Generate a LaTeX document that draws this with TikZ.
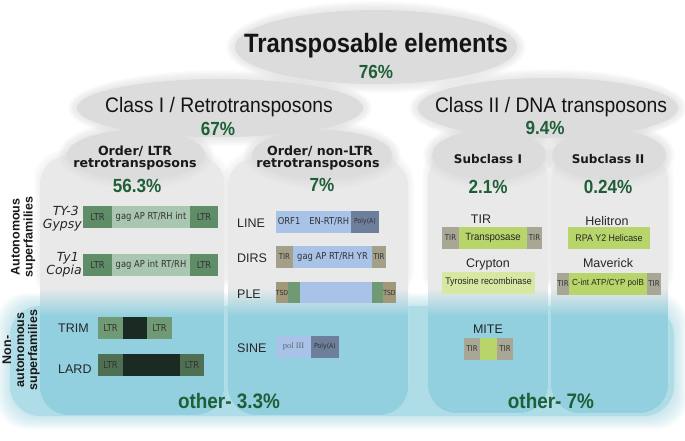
\documentclass[tikz,border=0pt]{standalone}
\usepackage{fontspec}
\setmainfont{Liberation Sans}
\newfontfamily\cnd{Liberation Sans}[FakeStretch=0.9]
\newfontfamily\cls{Liberation Sans}[FakeStretch=0.92]
\newfontfamily\vrd{DejaVu Sans}
\newfontfamily\vrdc{DejaVu Sans}[FakeStretch=0.88]
\newfontfamily\libc{Liberation Sans}[FakeStretch=0.92]
\newfontfamily\serf{Liberation Serif}
\definecolor{hgrey}{HTML}{DCDCDC}
\definecolor{cgrey}{HTML}{E9E9E9}
\definecolor{cblue}{HTML}{92D0DF}
\definecolor{bblue}{HTML}{AEDDE8}
\definecolor{pgreen}{HTML}{1E5F38}
\definecolor{ltrg}{HTML}{5F8D67}
\definecolor{ltrm}{HTML}{A9C7B0}
\definecolor{trimg}{HTML}{6F9A73}
\definecolor{lardg}{HTML}{4F6F53}
\definecolor{darkg}{HTML}{1C2A24}
\definecolor{lblue}{HTML}{A8C3E7}
\definecolor{slate}{HTML}{6E7F9C}
\definecolor{tanc}{HTML}{A39F88}
\definecolor{tsdc}{HTML}{A09A7B}
\definecolor{tirg}{HTML}{A8A694}
\definecolor{lime}{HTML}{B7D56B}
\definecolor{pale}{HTML}{D6E8A2}
\tikzset{
 segbox/.style={rectangle, inner sep=0pt, minimum height=22pt, text=black!80, font=\vrdc\fontsize{9.5}{10}\selectfont},
 tinyt/.style={font=\vrdc\fontsize{8}{9}\selectfont},
 microt/.style={font=\vrdc\fontsize{7}{8}\selectfont},
 gtxt/.style={font=\libc\fontsize{10}{11}\selectfont, text=black!85},
 pct/.style={inner sep=0pt, anchor=base, text=pgreen, font=\cnd\bfseries\fontsize{19}{20}\selectfont},
 lbl/.style={inner sep=0pt, text=black!85, font=\fontsize{12.5}{13}\selectfont},
 ordr/.style={inner sep=0pt, anchor=base, text=black!90, font=\vrd\bfseries\fontsize{12.6}{13}\selectfont},
 clss/.style={inner sep=0pt, anchor=base, text=black!92, font=\cls\fontsize{21}{22}\selectfont},
 sidel/.style={inner sep=0pt, rotate=90, align=center, text=black!90, font=\bfseries\fontsize{12.5}{13}\selectfont},
 spec/.style={inner sep=0pt, anchor=base east, text=black!85, font=\vrd\itshape\fontsize{12.5}{13}\selectfont},
}
\newcommand\bseg[7][]{\node[segbox, fill=#6, minimum width={(#4-#3)*1pt}, #1] (#2) at ({(#3+#4)/2},#5) {#7};}
\newcommand\softell[4]{%
 \foreach \g in {1,...,8}{\fill[hgrey, opacity=0.09] (#1,#2) ellipse [x radius=#3+1.1*\g, y radius=#4+1.1*\g];}
 \fill[hgrey] (#1,#2) ellipse [x radius=#3, y radius=#4];}
\newcommand\tecol[4]{%
 \foreach \g in {1,...,6}{\fill[cgrey, opacity=0.1, rounded corners=30pt] (#1-\g,#3-\g) rectangle (#2+\g,300);}
 \fill[cgrey, rounded corners=28pt] (#1,#3) rectangle (#2,#4);
 \begin{scope}
 \clip[rounded corners=28pt] (#1,#3) rectangle (#2,#4);
 \shade[top color=cgrey, bottom color=cblue] (#1,288) rectangle (#2,316);
 \fill[cblue] (#1,315.5) rectangle (#2,#4);
 \end{scope}}
\begin{document}
\begin{tikzpicture}[x=1pt,y=-1pt]
\useasboundingbox (0,0) rectangle (685,440);
\fill[white] (0,0) rectangle (685,440);
% blue band
\foreach \g in {1,...,10}{\fill[bblue, opacity=0.08, rounded corners=30pt] (10-1.3*\g,306-1.3*\g) rectangle (674+1.3*\g,416+1.3*\g);}
\fill[bblue, rounded corners=30pt] (10,306) rectangle (674,416);
% columns
\tecol{40}{224}{156}{415}
\tecol{228}{408}{158}{415}
\tecol{428}{548}{152}{413}
\tecol{551}{668}{152}{413}
% header ellipses
\softell{376}{47}{141}{37}
\softell{220}{108}{143}{29}
\softell{548}{108}{130}{30}
\softell{136}{155}{69}{25}
\softell{322}{155}{70}{25}
\softell{489}{155}{57}{25}
\softell{609}{155}{57}{25}
% titles
\node[inner sep=0pt, anchor=base, text=black!92, font=\cnd\bfseries\fontsize{26.5}{28}\selectfont] (te) at (376,52) {Transposable elements};
\node[pct] (p76) at (376,78) {76\%};
\node[clss] (c1) at (219,112) {Class I / Retrotransposons};
\node[pct] (p67) at (218,135) {67\%};
\node[clss] (c2) at (551,112) {Class II / DNA transposons};
\node[pct] (p94) at (545,134) {9.4\%};
\node[ordr] (o1a) at (135,155) {Order/ LTR};
\node[ordr] (o1b) at (135,167) {retrotransposons};
\node[pct] (p563) at (137,192) {56.3\%};
\node[ordr] (o2a) at (320,155) {Order/ non-LTR};
\node[ordr] (o2b) at (318,167) {retrotransposons};
\node[pct] (p7) at (322,191) {7\%};
\node[ordr, font=\vrd\bfseries\fontsize{12}{13}\selectfont] (s1) at (488,163) {Subclass I};
\node[pct] (p21) at (488,193) {2.1\%};
\node[ordr, font=\vrd\bfseries\fontsize{12}{13}\selectfont] (s2) at (608,163) {Subclass II};
\node[pct] (p024) at (608,193) {0.24\%};
% side labels
\node[sidel] (auto) at (23,237) {Autonomous\\superfamilies};
\node[sidel] (nonauto) at (21,350) {Non-\\autonomous\\superfamilies};
% LTR retrotransposons
\node[spec] (ty3) at (79,215.5) {TY-3};
\node[spec] (gypsy) at (82,228) {Gypsy};
\bseg{g1}{83}{112}{217}{ltrg}{LTR}
\bseg{g2}{112}{190}{217}{ltrm}{gag AP RT/RH int}
\bseg{g3}{190}{218}{217}{ltrg}{LTR}
\node[spec] (ty1) at (79,261.5) {Ty1};
\node[spec] (copia) at (82,274) {Copia};
\bseg{c1a}{83}{112}{265}{ltrg}{LTR}
\bseg{c1b}{112}{190}{265}{ltrm}{gag AP int RT/RH}
\bseg{c1c}{190}{218}{265}{ltrg}{LTR}
% non-LTR
\node[lbl, anchor=base west] (line) at (237,227) {LINE};
\bseg{l1}{276}{351}{221.5}{lblue}{ORF1\hspace{9pt}EN-RT/RH}
\bseg[microt]{l2}{351}{379}{221.5}{slate}{Poly(A)}
\node[lbl, anchor=base west] (dirs) at (237,262) {DIRS};
\bseg[tinyt]{d1}{276}{293}{257}{tanc}{TIR}
\bseg{d2}{293}{372}{257}{lblue}{gag AP RT/RH YR}
\bseg[tinyt]{d3}{372}{386}{257}{tanc}{TIR}
\node[lbl, anchor=base west] (ple) at (237,298) {PLE};
\bseg[microt, minimum height=21pt]{pl1}{276}{288}{292.5}{tsdc}{TSD}
\bseg[minimum height=21pt]{pl2}{288}{300}{292.5}{trimg}{}
\bseg[minimum height=21pt]{pl3}{300}{372}{292.5}{lblue}{}
\bseg[minimum height=21pt]{pl4}{372}{383}{292.5}{trimg}{}
\bseg[microt, minimum height=21pt]{pl5}{383}{396}{292.5}{tsdc}{TSD}
% non-autonomous class I
\node[lbl, anchor=base west] (trim) at (58,332) {TRIM};
\bseg{t1}{98}{123}{328}{trimg}{LTR}
\bseg{t2}{123}{147}{328}{darkg}{}
\bseg{t3}{147}{172}{328}{trimg}{LTR}
\node[lbl, anchor=base west] (lard) at (58,373) {LARD};
\bseg{la1}{98}{123}{365}{lardg}{LTR}
\bseg{la2}{123}{180}{365}{darkg}{}
\bseg{la3}{180}{204}{365}{lardg}{LTR}
\node[lbl, anchor=base west] (sine) at (237,352) {SINE};
\bseg[font=\serf\fontsize{8.5}{9}\selectfont, text=black!60]{si1}{276}{311}{346.5}{lblue}{pol III}
\bseg[microt]{si2}{311}{339}{346.5}{slate}{Poly(A)}
% class II
\node[lbl, anchor=base] (tir) at (481,223) {TIR};
\bseg[tinyt]{ti1}{442}{459}{238}{tirg}{TIR}
\bseg[gtxt, font=\libc\fontsize{10.5}{11}\selectfont]{ti2}{459}{527}{238}{lime}{Transposase}
\bseg[tinyt]{ti3}{527}{542}{238}{tirg}{TIR}
\node[lbl, anchor=base] (crypton) at (488,267) {Crypton};
\bseg[gtxt, font=\libc\fontsize{9.6}{11}\selectfont]{cr1}{442}{535}{282.5}{pale}{Tyrosine recombinase}
\node[lbl, anchor=base] (helitron) at (607,225) {Helitron};
\bseg[gtxt, font=\libc\fontsize{9.6}{11}\selectfont]{he1}{568}{650}{238}{lime}{RPA Y2 Helicase}
\node[lbl, anchor=base] (maverick) at (608,267) {Maverick};
\bseg[tinyt]{mv1}{557}{569}{283.5}{tirg}{TIR}
\bseg[gtxt, font=\libc\fontsize{8.8}{10}\selectfont]{mv2}{569}{647}{283.5}{lime}{C-int ATP/CYP polB}
\bseg[tinyt]{mv3}{647}{661}{283.5}{tirg}{TIR}
\node[lbl, anchor=base] (mite) at (488,333) {MITE};
\bseg[tinyt]{mi1}{464}{480}{349}{tirg}{TIR}
\bseg{mi2}{480}{497}{349}{lime}{}
\bseg[tinyt]{mi3}{497}{513}{349}{tirg}{TIR}
% other
\node[pct, font=\cnd\bfseries\fontsize{21}{22}\selectfont] (o33) at (229,408) {other- 3.3\%};
\node[pct, font=\cnd\bfseries\fontsize{21}{22}\selectfont] (o7) at (551,408) {other- 7\%};
\end{tikzpicture}
\end{document}
